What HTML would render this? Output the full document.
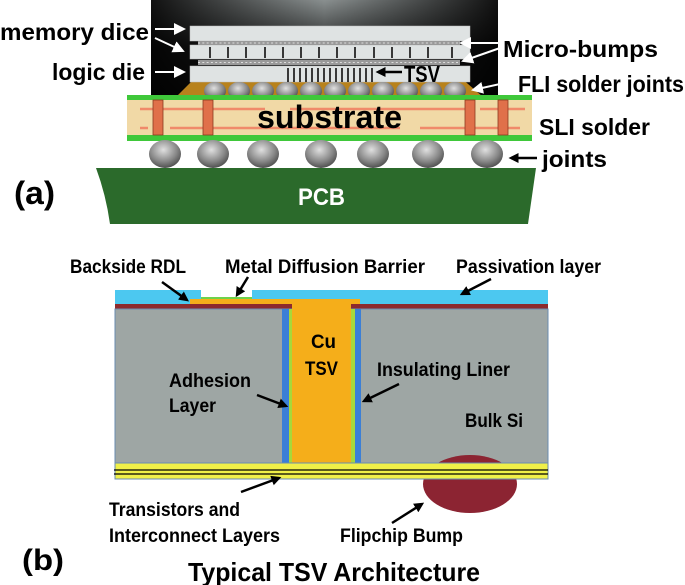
<!DOCTYPE html>
<html><head><meta charset="utf-8"><style>
html,body{margin:0;padding:0;background:#fff;width:685px;height:585px;overflow:hidden}
svg{display:block}
text{font-family:"Liberation Sans",sans-serif;font-weight:bold}
</style></head><body>
<svg width="685" height="585" viewBox="0 0 685 585" xmlns="http://www.w3.org/2000/svg">
<defs>
<linearGradient id="mold" x1="0" x2="1" y1="0" y2="0">
<stop offset="0" stop-color="#111"/><stop offset="0.5" stop-color="#8a9090"/><stop offset="1" stop-color="#111"/></linearGradient>
<linearGradient id="moldv" x1="0" x2="0" y1="0" y2="1">
<stop offset="0" stop-color="#000" stop-opacity="0"/><stop offset="0.5" stop-color="#000" stop-opacity="0.75"/><stop offset="1" stop-color="#000" stop-opacity="0.9"/></linearGradient>
<radialGradient id="ball" cx="0.45" cy="0.35" r="0.7">
<stop offset="0" stop-color="#e0e0e0"/><stop offset="0.6" stop-color="#888"/><stop offset="1" stop-color="#444"/></radialGradient>
<marker id="aw" markerWidth="6" markerHeight="6" refX="5" refY="3" orient="auto" markerUnits="strokeWidth"><path d="M0,0 L6,3 L0,6 z" fill="#fff"/></marker>
<marker id="ab" markerWidth="4" markerHeight="4" refX="3" refY="2" orient="auto" markerUnits="strokeWidth"><path d="M0,0 L4,2 L0,4 z" fill="#000"/></marker>
</defs>
<!-- (a) -->
<rect x="151" y="0" width="347" height="97" fill="url(#mold)"/>
<rect x="151" y="0" width="347" height="97" fill="url(#moldv)"/>
<polygon points="176,97 196,77 460,77 483,97" fill="#b8821c"/>
<g fill="#dfe3e3" stroke="#bbb" stroke-width="0.5">
<rect x="190" y="26" width="280" height="15"/>
<rect x="190" y="45" width="280" height="14"/>
<rect x="190" y="66" width="280" height="16"/>
</g>
<g fill="#999">
<rect x="198" y="41" width="262" height="4"/><rect x="198" y="60" width="262" height="5"/>
</g>
<g stroke="#ddd" stroke-width="1" fill="none">
<path d="M198,43 h262 M198,62.5 h262" stroke-dasharray="2,2.3"/>
</g>
<g stroke="#000" stroke-width="1.5">
<path d="M210,47v11 M228,47v11 M246,47v11 M265,47v11 M283,47v11 M301,47v11 M319,47v11 M337,47v11 M355,47v11 M374,47v11 M392,47v11 M410,47v11 M428,47v11 M452,47v11"/>
<path d="M288,68v14 M294,68v14 M300,68v14 M306,68v14 M312,68v14 M318,68v14 M324,68v14 M330,68v14 M336,68v14 M342,68v14 M348,68v14 M354,68v14 M360,68v14 M366,68v14 M372,68v14"/>
</g>
<g fill="url(#ball)">
<ellipse cx="215" cy="91" rx="11" ry="9"/><ellipse cx="239" cy="91" rx="11" ry="9"/><ellipse cx="263" cy="91" rx="11" ry="9"/><ellipse cx="287" cy="91" rx="11" ry="9"/><ellipse cx="311" cy="91" rx="11" ry="9"/><ellipse cx="335" cy="91" rx="11" ry="9"/><ellipse cx="359" cy="91" rx="11" ry="9"/><ellipse cx="383" cy="91" rx="11" ry="9"/><ellipse cx="407" cy="91" rx="11" ry="9"/><ellipse cx="431" cy="91" rx="11" ry="9"/><ellipse cx="455" cy="91" rx="11" ry="9"/>
</g>
<rect x="127" y="95" width="405" height="46" fill="#f1d9a6"/>
<rect x="127" y="95" width="405" height="5" fill="#3fc83a"/>
<rect x="127" y="135" width="405" height="6" fill="#3fc83a"/>
<g stroke="#f08a6a" stroke-width="2.5">
<path d="M140,109h110 M235,109h30 M290,109h180 M140,128h8 M170,128h230 M420,128h100 M480,109h45"/>
</g>
<g fill="#e0704a" stroke="#8a3a20" stroke-width="0.8">
<rect x="153" y="100" width="10" height="35"/><rect x="203" y="100" width="10" height="35"/><rect x="465" y="100" width="10" height="35"/><rect x="498" y="100" width="10" height="35"/>
</g>
<text x="257" y="128" font-size="32" textLength="145" lengthAdjust="spacingAndGlyphs" fill="#000">substrate</text>
<g fill="url(#ball)">
<ellipse cx="165" cy="154" rx="16" ry="14"/><ellipse cx="213" cy="154" rx="16" ry="14"/><ellipse cx="263" cy="154" rx="16" ry="14"/><ellipse cx="321" cy="154" rx="16" ry="14"/><ellipse cx="373" cy="154" rx="16" ry="14"/><ellipse cx="428" cy="154" rx="16" ry="14"/><ellipse cx="487" cy="154" rx="16" ry="14"/>
</g>
<path d="M96,168 L536,168 Q532,196 528,224 L110,224 Q106,195 96,168 Z" fill="#2b6a2b"/>
<text x="298" y="205" font-size="24" textLength="47" lengthAdjust="spacingAndGlyphs" fill="#fff">PCB</text>
<text x="14" y="204" font-size="32" textLength="41" lengthAdjust="spacingAndGlyphs" fill="#000">(a)</text>
<g font-size="23" fill="#000">
<text x="0" y="40" textLength="149" lengthAdjust="spacingAndGlyphs">memory dice</text>
<text x="52" y="80" textLength="93" lengthAdjust="spacingAndGlyphs">logic die</text>
<text x="503" y="57" textLength="155" lengthAdjust="spacingAndGlyphs">Micro-bumps</text>
<text x="518" y="92" textLength="166" lengthAdjust="spacingAndGlyphs">FLI solder joints</text>
<text x="539" y="135" textLength="111" lengthAdjust="spacingAndGlyphs">SLI solder</text>
<text x="542" y="167" textLength="65" lengthAdjust="spacingAndGlyphs">joints</text>
<text x="404" y="82" textLength="36" lengthAdjust="spacingAndGlyphs">TSV</text>
</g>
<g stroke="#fff" stroke-width="2" fill="none" marker-end="url(#aw)">
<path d="M155,29 L184,29"/><path d="M155,38 L183,51"/><path d="M155,72 L184,72"/>
<path d="M500,43 L461,43"/><path d="M500,48 L463,61"/><path d="M518,80 L473,90"/>
</g>
<g stroke="#000" stroke-width="2.5" fill="none" marker-end="url(#ab)">
<path d="M402,72 L378,72"/><path d="M537,158 L511,158"/>
</g>
<!-- (b) -->
<rect x="115" y="290" width="433" height="16" fill="#4cc8f0"/>
<rect x="201" y="290" width="51" height="9" fill="#fff"/>
<rect x="190" y="299" width="170" height="6" fill="#f5ae1a"/>
<rect x="201" y="297" width="51" height="2" fill="#6ed24a"/>
<rect x="115" y="304" width="177" height="5" fill="#8c2a2e"/>
<rect x="351" y="304" width="197" height="5" fill="#8c2a2e"/>
<rect x="115" y="309" width="433" height="154" fill="#9ea6a4" stroke="#6a8cb0" stroke-width="1"/>
<rect x="282" y="309" width="7" height="154" fill="#3b7fd6"/>
<rect x="289" y="309" width="3" height="154" fill="#a8d83a"/>
<rect x="292" y="305" width="59" height="158" fill="#f5ae1a"/>
<rect x="351" y="309" width="4" height="154" fill="#a8d83a"/>
<rect x="355" y="309" width="6" height="154" fill="#3b7fd6"/>
<ellipse cx="470" cy="484" rx="47" ry="29" fill="#8c2432"/>
<rect x="115" y="463" width="433" height="16" fill="#f0f048" stroke="#6a8cb0" stroke-width="1"/>
<path d="M114,470h434 M114,474h434" stroke="#000" stroke-width="1.3"/>
<g font-size="19" fill="#000">
<text x="70" y="273" textLength="116" lengthAdjust="spacingAndGlyphs">Backside RDL</text>
<text x="225" y="273" textLength="200" lengthAdjust="spacingAndGlyphs">Metal Diffusion Barrier</text>
<text x="456" y="273" textLength="145" lengthAdjust="spacingAndGlyphs">Passivation layer</text>
<text x="311" y="348" textLength="25" lengthAdjust="spacingAndGlyphs">Cu</text>
<text x="305" y="375" textLength="33" lengthAdjust="spacingAndGlyphs">TSV</text>
<text x="377" y="376" textLength="133" lengthAdjust="spacingAndGlyphs">Insulating Liner</text>
<text x="169" y="387" textLength="82" lengthAdjust="spacingAndGlyphs">Adhesion</text>
<text x="169" y="412" textLength="47" lengthAdjust="spacingAndGlyphs">Layer</text>
<text x="465" y="427" textLength="58" lengthAdjust="spacingAndGlyphs">Bulk Si</text>
<text x="109" y="516" textLength="131" lengthAdjust="spacingAndGlyphs">Transistors and</text>
<text x="109" y="542" textLength="171" lengthAdjust="spacingAndGlyphs">Interconnect Layers</text>
<text x="340" y="542" textLength="123" lengthAdjust="spacingAndGlyphs">Flipchip Bump</text>
</g>
<text x="22" y="570" font-size="30" textLength="42" lengthAdjust="spacingAndGlyphs" fill="#000">(b)</text>
<text x="188" y="581" font-size="26" textLength="292" lengthAdjust="spacingAndGlyphs" fill="#000">Typical TSV Architecture</text>
<g stroke="#000" stroke-width="2.5" fill="none" marker-end="url(#ab)">
<path d="M162,282 L187,300"/><path d="M248,277 L237,295"/><path d="M491,279 L462,294"/>
<path d="M257,395 L286,406"/><path d="M399,384 L364,401"/><path d="M241,492 L279,478"/><path d="M392,523 L422,504"/>
</g>
</svg>
</body></html>
